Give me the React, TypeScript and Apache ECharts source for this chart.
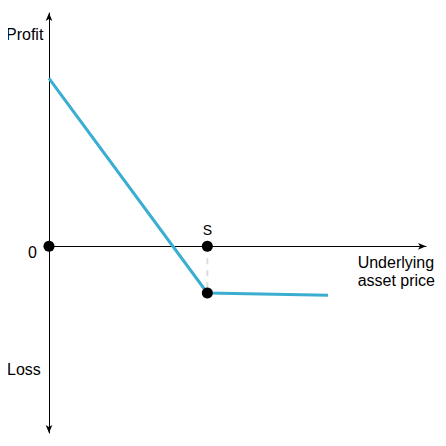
import React, { useEffect, useRef } from 'react';
import * as echarts from 'echarts';

// payoff line: underlying price vs profit/loss
const payoffX = [0, 42, 74];
const payoffY = [72, -20, -21];

// strike marker
const strikeX = 42;
const strikeLabel = 'S';

// black dots: origin, strike on axis, strike on payoff
const dotPoints = [
  [0, 0],
  [42, 0],
  [42, -20],
];

const FONT = 'Liberation Sans';

const txt = (text: string, pos: any, extra: any = {}) => ({
  type: 'text',
  ...pos,
  style: {
    text,
    fontSize: 16,
    fontFamily: FONT,
    fill: '#000',
    ...extra,
  },
});

const App = () => {
  const chartRef = useRef<any>(null);

  useEffect(() => {
    const chart = echarts.init(chartRef.current, null, { renderer: 'svg' });

    const option: any = {
      animation: false,
      grid: { left: 49, right: 20, top: 13, bottom: 13 },
      xAxis: {
        type: 'value',
        min: 0,
        max: 100,
        axisLine: {
          onZero: true,
          symbol: ['none', 'arrow'],
          symbolSize: [5, 8],
          lineStyle: { color: '#000', width: 1 },
        },
        axisTick: { show: false },
        axisLabel: { show: false },
        splitLine: { show: false },
      },
      yAxis: {
        type: 'value',
        min: -80,
        max: 100,
        axisLine: {
          onZero: true,
          symbol: ['arrow', 'arrow'],
          symbolSize: [5, 8],
          lineStyle: { color: '#000', width: 1 },
        },
        axisTick: { show: false },
        splitLine: { show: false },
        axisLabel: { show: false },
      },
      graphic: [
        txt('Profit', { left: 6, top: 26 }),
        txt('Loss', { left: 7, top: 361 }),
        txt('0', { left: 28, top: 244 }),
        txt(
          'Underlying\nasset price',
          { right: 11, top: 253 },
          { align: 'right', lineHeight: 18 }
        ),
      ],
      series: [
        {
          type: 'line',
          data: [
            [strikeX, 0],
            [strikeX, payoffY[1]],
          ],
          symbol: 'none',
          lineStyle: { color: '#dcdcdc', width: 2, type: [6, 6] },
          z: 1,
        },
        {
          type: 'line',
          data: payoffX.map((x, i) => [x, payoffY[i]]),
          symbol: 'none',
          lineStyle: { color: '#3aaed1', width: 3 },
          z: 2,
        },
        {
          type: 'scatter',
          data: dotPoints,
          symbolSize: 11,
          itemStyle: { color: '#000', opacity: 1 },
          z: 3,
          label: {
            show: true,
            position: 'top',
            distance: 4,
            color: '#000',
            fontFamily: FONT,
            fontSize: 14,
            formatter: (p: any) =>
              p.dataIndex === 1 ? strikeLabel : '',
          },
        },
      ],
    };

    chart.setOption(option);

    return () => {
      chart.dispose();
    };
  }, []);

  return (
    <div
      ref={chartRef}
      style={{ width: '446px', height: '446px', margin: '-8px' }}
    />
  );
};

export default App;
